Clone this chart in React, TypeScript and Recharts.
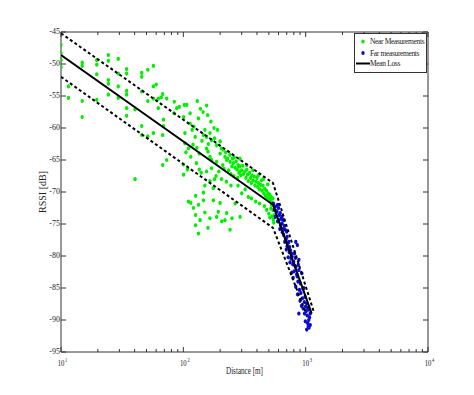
import React from "react";
import { ComposedChart, Scatter, XAxis, YAxis, Legend } from "recharts";

// near measurements (green)
const nearDist = [
  10, 10, 10, 10, 11.5, 11.5, 14.9, 14.9, 14.9, 14.9,
  19.6, 19.6, 19.6, 19.6, 24.4, 24.4, 24.4, 24.4, 24.4, 29.4,
  29.4, 29.4, 29.4, 34.4, 34.4, 34.4, 34.4, 34.4, 34.4, 40.3,
  40.3, 45.7, 45.7, 45.7, 45.7, 45.7, 51.2, 51.2, 51.2, 56.9,
  56.9, 56.9, 56.9, 60, 62.5, 62.5, 66, 67.8, 68.8, 68.8,
  67.8, 67.8, 73.1, 73.1, 84.4, 84, 88.3, 92.7, 100.6, 101.9,
  103, 103, 100, 100.6, 105, 106.6, 108, 110, 110, 113.6,
  113.6, 115, 115, 118, 120, 121, 122, 125, 126, 126,
  126, 128, 129, 130, 133, 133, 133, 135, 135, 137,
  138, 140, 142, 145, 146, 146, 146, 150, 150, 150,
  155, 155, 155, 155, 158, 159, 159, 160, 165, 165,
  165, 165, 168, 170, 170, 170, 176, 176, 178, 180,
  180, 185, 187, 187, 187, 190, 193, 195, 200, 200,
  200, 205, 205, 206, 210, 212, 215, 219, 219, 222,
  225, 226, 226, 230, 235, 240, 241, 241, 245, 245,
  250, 250, 252, 256, 258, 260, 265, 265, 270, 275,
  278, 280, 280, 283, 285, 290, 290, 291, 291, 295,
  300, 300, 305, 310, 318, 320, 325, 330, 330, 335,
  340, 340, 348, 355, 360, 360, 365, 370, 372, 380,
  385, 390, 392, 400, 405, 410, 412, 420, 420, 428,
  435, 440, 448, 450, 455, 460, 462, 470, 478, 480,
  485, 490, 492, 500, 500, 508, 510, 515, 520, 522,
  530, 530, 538, 540, 545, 555, 525, 548,
];
const nearRssi = [
  -47.0, -48.3, -49.4, -50.5, -53.5, -55.3, -49.8, -50.3, -55.8, -58.3,
  -49.4, -50.1, -51.6, -55.6, -48.6, -49.5, -52.5, -53.1, -54.8, -49.2,
  -51.5, -53.5, -55.3, -50.8, -51.5, -54.2, -54.8, -56.9, -58.1, -57.1,
  -68.0, -51.4, -52.0, -54.3, -59.7, -61.1, -50.9, -55.8, -61.3, -50.3,
  -53.5, -55.4, -60.8, -53.2, -55.4, -56.9, -55.2, -54.7, -58.7, -59.7,
  -61.1, -65.8, -55.4, -65.0, -55.9, -57.7, -56.9, -56.7, -58.3, -56.4,
  -60.8, -62.4, -65.7, -67.3, -63.8, -56.4, -66.5, -63.2, -71.5, -57.7,
  -59.3, -64.5, -71.7, -60.3, -62.6, -72.5, -59.8, -61.4, -70.6, -73.6,
  -75.2, -65.5, -63.1, -55.8, -58.5, -72.0, -76.5, -64.0, -66.5, -74.4,
  -57.0, -67.0, -62.0, -57.5, -61.1, -70.1, -71.3, -60.3, -69.0, -73.2,
  -56.5, -61.4, -63.2, -66.8, -58.0, -63.7, -75.6, -62.5, -60.8, -64.5,
  -68.3, -74.1, -59.0, -61.9, -65.0, -66.3, -71.3, -69.4, -60.0, -61.6,
  -68.0, -67.5, -62.7, -65.3, -73.9, -60.3, -73.1, -66.8, -62.1, -64.0,
  -71.7, -63.2, -68.0, -74.6, -65.8, -63.4, -66.4, -64.5, -74.4, -63.8,
  -68.4, -65.0, -73.3, -64.8, -66.6, -64.2, -65.3, -75.9, -67.2, -69.0,
  -66.0, -74.1, -64.8, -65.5, -67.5, -64.6, -66.2, -71.8, -65.2, -66.5,
  -67.8, -65.8, -69.0, -66.0, -67.0, -64.8, -66.0, -73.9, -66.8, -67.4,
  -66.6, -70.2, -65.9, -67.2, -66.8, -69.6, -67.8, -66.5, -65.8, -67.3,
  -68.3, -70.8, -67.0, -67.8, -68.6, -71.0, -67.4, -66.6, -68.2, -67.6,
  -69.0, -71.5, -68.4, -67.8, -69.2, -67.4, -68.6, -69.6, -71.8, -68.9,
  -68.2, -69.8, -69.0, -68.0, -70.2, -72.2, -69.5, -70.6, -69.8, -72.8,
  -70.8, -68.8, -70.2, -71.0, -73.4, -70.4, -74.0, -71.3, -72.6, -70.8,
  -71.6, -73.8, -71.0, -72.8, -74.3, -73.6, -72.0, -74.8,
];

// far measurements (blue)
const farDist = [
  545, 555, 565, 565, 575, 583, 590, 600, 600, 610,
  619, 625, 630, 640, 640, 650, 660, 660, 670, 680,
  690, 700, 705, 705, 715, 728, 735, 740, 750, 760,
  765, 774, 785, 798, 805, 815, 830, 830, 830, 845,
  855, 855, 865, 880, 880, 880, 890, 905, 915, 930,
  940, 950, 965, 975, 988, 1000, 1010, 1020, 1030, 1040,
  1060, 1060, 1075, 1090, 1090, 1020, 1050,
  590, 615, 645, 675, 695, 720, 745, 770, 790, 810,
  825, 860, 870, 900, 925, 955, 980, 995, 1040, 1065,
];
const farRssi = [
  -71.8, -72.8, -72.3, -73.9, -73.0, -73.1, -74.6, -72.5, -74.4, -73.6,
  -73.3, -75.2, -74.2, -73.9, -74.9, -75.8, -74.4, -76.7, -75.3, -75.9,
  -77.4, -76.2, -77.0, -78.5, -78.0, -77.8, -79.4, -78.6, -79.1, -80.4,
  -79.6, -80.1, -81.3, -80.9, -82.4, -81.5, -77.8, -81.7, -84.8, -82.9,
  -78.3, -83.2, -84.0, -80.6, -82.2, -89.0, -85.3, -84.3, -85.8, -82.7,
  -86.6, -85.1, -85.0, -87.2, -86.4, -87.9, -88.6, -87.4, -89.3, -88.1,
  -88.4, -90.0, -89.6, -89.0, -90.8, -91.5, -91.0,
  -72.0, -75.8, -76.3, -77.8, -79.0, -80.2, -81.0, -82.6, -83.4, -79.6,
  -80.3, -86.0, -81.4, -87.0, -87.8, -88.2, -89.0, -90.2, -90.5, -91.2,
];

// mean loss and +/- bounds
const meanDist = [10, 541, 1120];
const meanRssi = [-48.6, -72.0, -89.0];
const upperDist = [10, 541, 1160];
const upperRssi = [-45.2, -68.6, -88.6];
const lowerDist = [10, 541, 990];
const lowerRssi = [-52.0, -75.6, -88.6];

const majorX = [10, 100, 1000, 10000];
const minorX = [
  20, 30, 40, 50, 60, 70, 80, 90,
  200, 300, 400, 500, 600, 700, 800, 900,
  2000, 3000, 4000, 5000, 6000, 7000, 8000, 9000,
];
const yTicks = [-95, -90, -85, -80, -75, -70, -65, -60, -55, -50, -45];

const GREEN = "#00f000";
const BLUE = "#0a0ad2";
const AX = "#333";
const SERIF = "'Liberation Serif', 'Times New Roman', serif";

const zip = (xs: number[], ys: number[]) => xs.map((x, i) => ({ x, y: ys[i] }));

const nearData = zip(nearDist, nearRssi);
const farData = zip(farDist, farRssi);
const meanData = zip(meanDist, meanRssi);
const upperData = zip(upperDist, upperRssi);
const lowerData = zip(lowerDist, lowerRssi);
const xTicks = [...majorX, ...minorX].sort((a, b) => a - b);

function XTick({ x, y, payload, side }: any) {
  const v = payload.value;
  const major = majorX.includes(v);
  const len = major ? 5 : 3;
  const dir = side === "top" ? 1 : -1;
  return (
    <g>
      <line x1={x} y1={y} x2={x} y2={y + dir * len} stroke={AX} strokeWidth={1} />
      {major && side === "bottom" && (
        <g transform={`translate(${x},${y + 14}) scale(0.75,1)`}>
          <text x={0} y={0} textAnchor="middle" fontSize={9} fontFamily={SERIF} fill="#222">10</text>
          <text x={5.5} y={-4} fontSize={6} fontFamily={SERIF} fill="#222">
            {Math.round(Math.log10(v))}
          </text>
        </g>
      )}
    </g>
  );
}

function YTick({ x, y, payload, side }: any) {
  const dir = side === "left" ? 1 : -1;
  return (
    <g>
      <line x1={x} y1={y} x2={x + dir * 5} y2={y} stroke={AX} strokeWidth={1} />
      {side === "left" && (
        <text x={x - 1} y={y + 1.5} textAnchor="end" fontSize={8} fontFamily={SERIF} fill="#222">
          {String(payload.value)}
        </text>
      )}
    </g>
  );
}

function XLabel({ viewBox }: any) {
  const vb = viewBox ?? { x: 53, y: 344, width: 367, height: 35 };
  return (
    <text
      x={vb.x + vb.width / 2}
      y={vb.y + 22}
      textAnchor="middle"
      fontSize={10}
      fontFamily={SERIF}
      fill="#222"
      textLength={37}
      lengthAdjust="spacingAndGlyphs"
    >
      Distance [m]
    </text>
  );
}

function YLabel({ viewBox }: any) {
  const vb = viewBox ?? { x: 0, y: 24, width: 53, height: 320 };
  return (
    <text
      transform={`translate(${vb.x + 38},${vb.y + vb.height / 2}) rotate(-90)`}
      textAnchor="middle"
      fontSize={10}
      fontFamily={SERIF}
      fill="#222"
    >
      RSSI [dB]
    </text>
  );
}

function LegendBox() {
  const t = { fontSize: 7.5, fontFamily: SERIF, fill: "#222", letterSpacing: -0.35 };
  return (
    <svg width={73} height={40} style={{ display: "block", overflow: "visible" }}>
      <rect x={0.5} y={0.5} width={72} height={39} fill="#fff" stroke={AX} />
      <ellipse cx={9} cy={8.5} rx={1.7} ry={2.1} fill={GREEN} />
      <text x={16} y={11} {...t}>Near Measurements</text>
      <ellipse cx={9} cy={20} rx={1.7} ry={2.1} fill={BLUE} />
      <text x={16} y={22.5} {...t}>Far measurements</text>
      <line x1={2} y1={30.5} x2={16} y2={30.5} stroke="#000" strokeWidth={2} />
      <text x={16} y={33} {...t}>Mean Loss</text>
    </svg>
  );
}

const greenDot = (p: any) => <ellipse cx={p.cx} cy={p.cy} rx={1.7} ry={2.1} fill={GREEN} />;
const blueDot = (p: any) => <ellipse cx={p.cx} cy={p.cy} rx={1.7} ry={2.1} fill={BLUE} />;
const noDot = () => <g />;

export default function App() {
  return (
    <div style={{ width: 458, height: 379, background: "#fff" }}>
      <ComposedChart
        width={458}
        height={379}
        margin={{ top: 23, right: 37, bottom: 0, left: 0 }}
      >
        <XAxis
          xAxisId="b"
          dataKey="x"
          type="number"
          scale="log"
          domain={[10, 10000]}
          allowDataOverflow
          ticks={xTicks}
          interval={0}
          tickSize={0}
          tickMargin={0}
          tickLine={false}
          axisLine={{ stroke: AX }}
          height={35}
          tick={(p: any) => <XTick {...p} side="bottom" />}
          label={<XLabel />}
        />
        <XAxis
          xAxisId="t"
          orientation="top"
          dataKey="x"
          type="number"
          scale="log"
          domain={[10, 10000]}
          allowDataOverflow
          ticks={xTicks}
          interval={0}
          tickSize={0}
          tickMargin={0}
          tickLine={false}
          axisLine={{ stroke: AX }}
          height={1}
          tick={(p: any) => <XTick {...p} side="top" />}
        />
        <YAxis
          yAxisId="l"
          dataKey="y"
          type="number"
          domain={[-95, -45]}
          allowDataOverflow
          ticks={yTicks}
          interval={0}
          tickSize={0}
          tickMargin={0}
          tickLine={false}
          axisLine={{ stroke: AX }}
          width={53}
          tick={(p: any) => <YTick {...p} side="left" />}
          label={<YLabel />}
        />
        <YAxis
          yAxisId="r"
          orientation="right"
          dataKey="y"
          type="number"
          domain={[-95, -45]}
          allowDataOverflow
          ticks={yTicks}
          interval={0}
          tickSize={0}
          tickMargin={0}
          tickLine={false}
          axisLine={{ stroke: AX }}
          width={1}
          tick={(p: any) => <YTick {...p} side="right" />}
        />
        <Legend
          layout="vertical"
          align="center"
          verticalAlign="middle"
          wrapperStyle={{ left: 346, top: 25, width: 73, height: 40 }}
          content={() => <LegendBox />}
        />
        <Scatter name="Near Measurements" xAxisId="b" yAxisId="l" data={nearData} shape={greenDot} isAnimationActive={false} />
        <Scatter name="Far measurements" xAxisId="b" yAxisId="l" data={farData} shape={blueDot} isAnimationActive={false} />
        <Scatter
          name="upper"
          xAxisId="b"
          yAxisId="l"
          data={upperData}
          shape={noDot}
          fill="#000"
          line={{ stroke: "#000", strokeWidth: 2, strokeDasharray: "3 2.5" }}
          isAnimationActive={false}
        />
        <Scatter
          name="lower"
          xAxisId="b"
          yAxisId="l"
          data={lowerData}
          shape={noDot}
          fill="#000"
          line={{ stroke: "#000", strokeWidth: 2, strokeDasharray: "3 2.5" }}
          isAnimationActive={false}
        />
        <Scatter
          name="Mean Loss"
          xAxisId="b"
          yAxisId="l"
          data={meanData}
          shape={noDot}
          fill="#000"
          line={{ stroke: "#000", strokeWidth: 2 }}
          isAnimationActive={false}
        />
      </ComposedChart>
    </div>
  );
}
